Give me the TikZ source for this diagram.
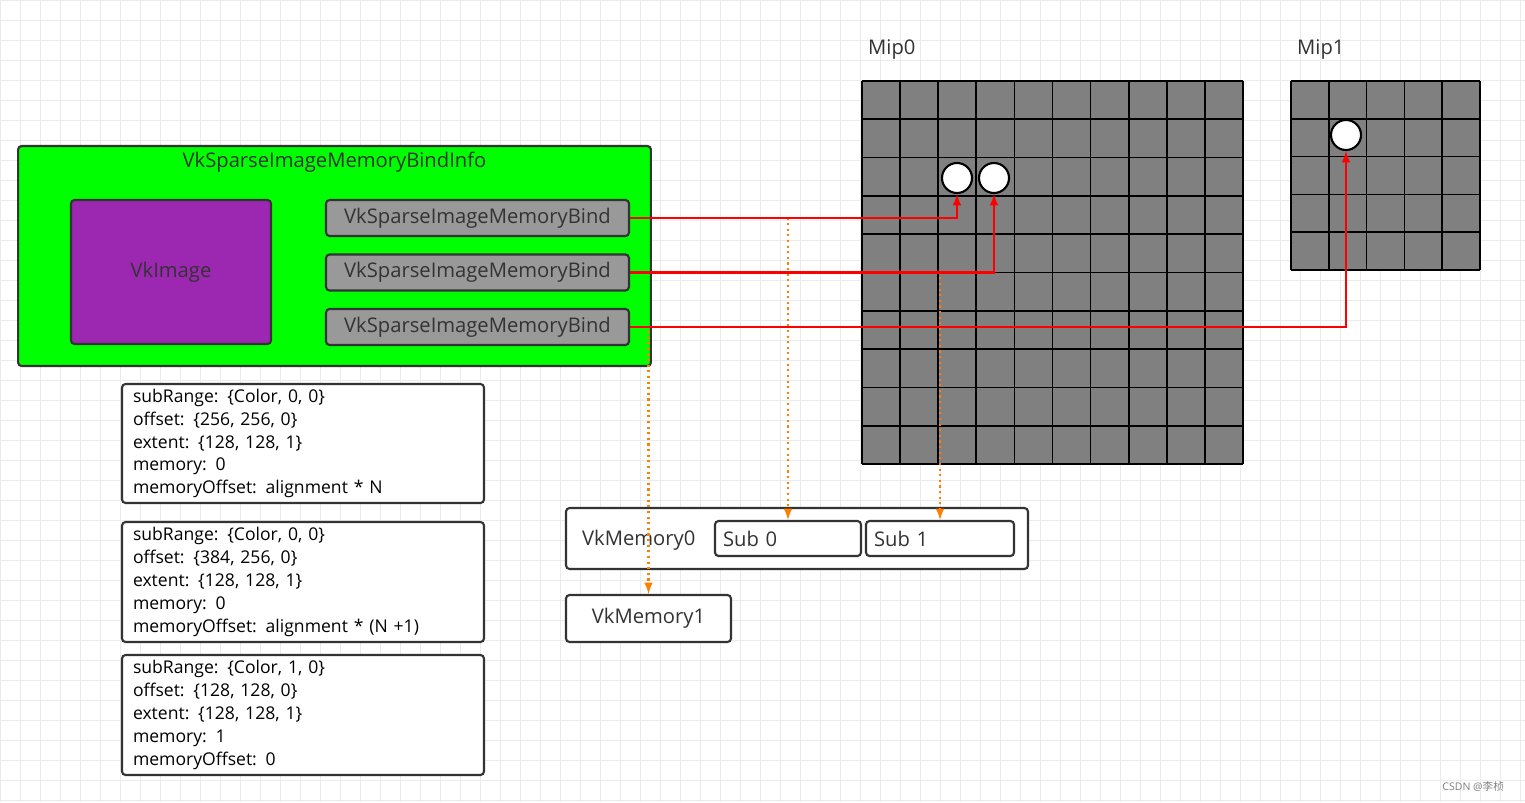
\documentclass[tikz,border=0pt]{standalone}
\usepackage{fontspec}
\setmainfont{Open Sans}
\newfontfamily\cjk{Noto Sans CJK SC}
\usetikzlibrary{calc}
\definecolor{edge}{HTML}{333333}
\definecolor{cellgray}{HTML}{808080}
\definecolor{bindgray}{HTML}{999999}
\definecolor{vkpurple}{HTML}{9C27B0}
\definecolor{gridline}{HTML}{EBEBEB}
\tikzset{box/.style={draw=edge, line width=1.2pt, rounded corners=2pt, inner sep=0}}
\tikzset{bind/.style={box, fill=bindgray, minimum width=6.06cm, minimum height=0.72cm, font=\fontsize{11.5}{13}\selectfont, text=edge}}
\tikzset{info/.style={box, fill=white, minimum width=7.24cm, text width=6.8cm, align=left, font=\fontsize{10}{13}\selectfont, text=black}}
\tikzset{slot/.style={draw=black, line width=1.2pt, fill=white, circle, minimum size=0.6cm, inner sep=0}}
\tikzset{bindarrow/.style={draw=red, line width=1.2pt, -latex}}
\tikzset{memarrow/.style={draw={rgb,255:red,255;green,128;blue,0}, line width=1.2pt, dotted, -latex}}

\begin{document}
\begin{tikzpicture}[x=0.02cm, y=-0.02cm]
    \useasboundingbox (0,0) rectangle (1525,802);
    \fill[white] (0,0) rectangle (1525,802);
    % background grid
    \foreach \g in {0,20,...,1520} \draw[gridline, line width=0.4pt] (\g,0) -- (\g,802);
    \foreach \g in {0,20,...,800} \draw[gridline, line width=0.4pt] (0,\g) -- (1525,\g);

    % bind info
    \node[box, fill=green, minimum width=12.66cm, minimum height=4.4cm] at (334.5,256) (info) {};
    \node[anchor=north, font=\fontsize{11.5}{13}\selectfont, text=edge] at (334.5,146) (infotitle) {VkSparseImageMemoryBindInfo};
    \node[box, fill=vkpurple, minimum width=4cm, minimum height=2.88cm, font=\fontsize{11.5}{13}\selectfont, text=edge] at (171,272) (image) {VkImage};
    \node[bind] at (477.5,218) (b1) {VkSparseImageMemoryBind};
    \node[bind] at (477.5,272.5) (b2) {VkSparseImageMemoryBind};
    \node[bind] at (477.5,327) (b3) {VkSparseImageMemoryBind};

    \node[info, minimum height=2.38cm] at (303,443.5) (i1) {subRange: \{Color, 0, 0\}\\offset: \{256, 256, 0\}\\extent: \{128, 128, 1\}\\memory: 0\\memoryOffset: alignment * N};
    \node[info, minimum height=2.4cm] at (303,582) (i2) {subRange: \{Color, 0, 0\}\\offset: \{384, 256, 0\}\\extent: \{128, 128, 1\}\\memory: 0\\memoryOffset: alignment * (N +1)};
    \node[info, minimum height=2.4cm] at (303,715) (i3) {subRange: \{Color, 1, 0\}\\offset: \{128, 128, 0\}\\extent: \{128, 128, 1\}\\memory: 1\\memoryOffset: 0};

    % mips
    \fill[cellgray] (862,81) rectangle (1243,464);
    \foreach \k in {0,...,10} {
        \draw[black, line width=1pt] ({862+38.1*\k},81) -- ({862+38.1*\k},464);
        \draw[black, line width=1pt] (862,{81+38.3*\k}) -- (1243,{81+38.3*\k});
    }
    \node[anchor=west, font=\fontsize{11.5}{13}\selectfont, text=edge] at (862,50) (mip0) {Mip0};
    \fill[cellgray] (1291,81) rectangle (1480,270);
    \foreach \k in {0,...,5} {
        \draw[black, line width=1pt] ({1291+37.8*\k},81) -- ({1291+37.8*\k},270);
        \draw[black, line width=1pt] (1291,{81+37.8*\k}) -- (1480,{81+37.8*\k});
    }
    \node[anchor=west, font=\fontsize{11.5}{13}\selectfont, text=edge] at (1291,50) (mip1) {Mip1};
    \node[slot] at (957,178) (c1) {};
    \node[slot] at (994,178) (c2) {};
    \node[slot] at (1346,135) (c3) {};

    % memory
    \node[box, fill=white, minimum width=9.24cm, minimum height=1.22cm] at (797,538.5) (mem0) {};
    \node[anchor=west, font=\fontsize{11.5}{13}\selectfont, text=edge] at (576,540) (mem0label) {VkMemory0};
    \node[box, fill=white, minimum width=2.92cm, minimum height=0.7cm, text width=2.6cm, align=left, font=\fontsize{11.5}{13}\selectfont, text=edge] at (788,538.5) (sub0) {Sub 0};
    \node[box, fill=white, minimum width=2.96cm, minimum height=0.7cm, text width=2.64cm, align=left, font=\fontsize{11.5}{13}\selectfont, text=edge] at (940,538.5) (sub1) {Sub 1};
    \node[box, fill=white, minimum width=3.3cm, minimum height=0.94cm, font=\fontsize{11.5}{13}\selectfont, text=edge] at (648.5,618.5) (mem1) {VkMemory1};

    \draw[memarrow] (b1.east) -| (sub0.north);
    \draw[memarrow] (b2.east) -| (sub1.north);
    \draw[memarrow] (b3.east) -| (mem1.north);
    \draw[bindarrow] (b1.east) -| (c1.south);
    \draw[bindarrow] (b2.east) -| (c2.south);
    \draw[bindarrow] (b3.east) -| (c3.south);

    \node[anchor=east, font=\fontsize{6}{7}\selectfont, text=gray] at (1510,787) (mark) {CSDN @{\cjk 李桢}};
\end{tikzpicture}
\end{document}
